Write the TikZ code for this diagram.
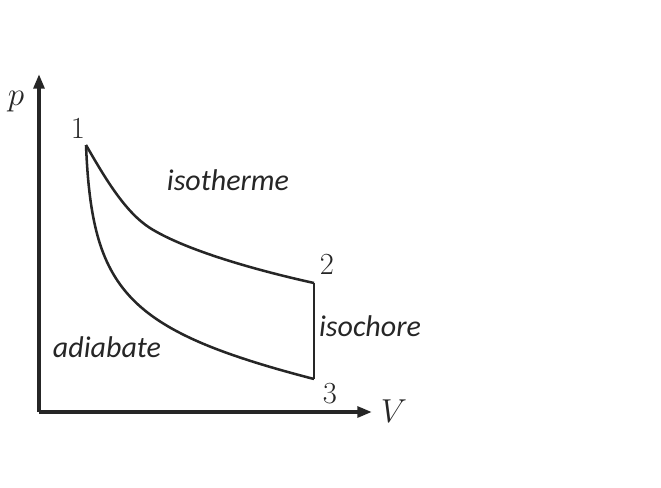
\documentclass[tikz,border=0pt]{standalone}
\usepackage{fontspec}
\setsansfont{Carlito}
\usepackage{tikz}
\usetikzlibrary{arrows.meta}

\begin{document}
\begin{tikzpicture}[x=0.75pt,y=0.75pt,yscale=-1,xscale=1]
\useasboundingbox (0,0) rectangle (661,487); %set diagram left start at 0, and has height of 487

\tikzset{
  axis/.style={line width=2.8pt,color=black!85,-{Triangle[length=11pt,width=8pt]}},
  curve/.style={line width=1.9pt,color=black!85},
  lbl/.style={font=\fontsize{22.5}{26}\selectfont\sffamily\itshape,color=black!85},
  num/.style={font=\fontsize{23}{26}\selectfont,color=black!85}
}

% Axes
\coordinate (O) at (39,412);
\coordinate (ptop) at (39,74);
\coordinate (vend) at (372,412);
\draw[axis] (O) -- (ptop);
\draw[axis] (O) -- (vend);
\node[num] (p) at (16,102) {$p$};
\node[num] (V) at (394,411) {$V$};

% State points
\coordinate (s1) at (86,145);
\coordinate (s2) at (314,283);
\coordinate (s3) at (314,379);
\node[num] (n1) at (78,128) {1};
\node[num] (n2) at (327,264) {2};
\node[num] (n3) at (330,394) {3};

% Cycle
\draw[curve] (s1) .. controls (105,178) and (125,212) .. (150,228)
  .. controls (185,250) and (255,270) .. (s2);
\draw[curve] (s2) -- (s3);
\draw[curve] (s1) .. controls (92,290) and (125,330) .. (s3);

% Text Node
\node[lbl] (iso) at (228,180) {isotherme};
\node[lbl] (chor) at (370,326) {isochore};
\node[lbl] (adia) at (107,347) {adiabate};

\end{tikzpicture}
\end{document}
